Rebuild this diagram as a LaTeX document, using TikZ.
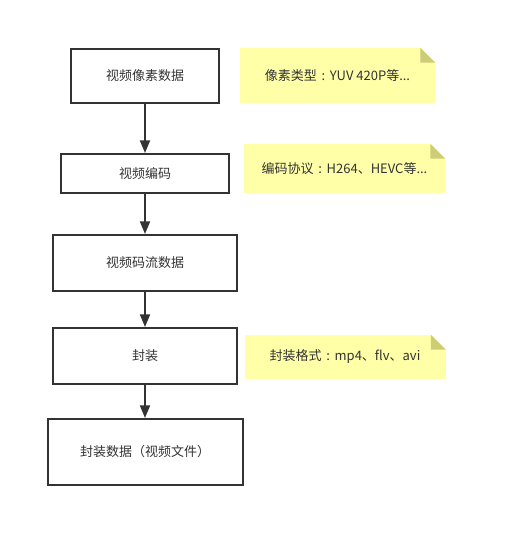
\documentclass[tikz,border=0pt]{standalone}
\usepackage{fontspec}
\setmainfont{Noto Sans CJK SC}
\usetikzlibrary{arrows.meta}
\definecolor{notefill}{HTML}{FFFFA8}
\definecolor{notefold}{HTML}{CDCD78}
\definecolor{ink}{HTML}{333333}
\newcommand{\etcdots}{...}
\newcommand{\midcolon}{\makebox[1em]{:}}

\begin{document}
\begin{tikzpicture}[x=0.75pt,y=-0.75pt,font=\fontsize{9.75}{12}\selectfont,
  stepbox/.style={draw=ink,line width=1.5pt,fill=white,inner sep=0pt,text=ink},
  note/.style={fill=notefill,inner sep=0pt,text=ink},
  flow/.style={draw=ink,line width=1.5pt,-{Triangle[length=9.5pt,width=7.5pt]}},
  fold dist/.initial=11.25pt]
\useasboundingbox (0,0) rectangle (508,547);
% steps
\foreach \X/\Y/\W/\H [count=\i] in
{视频像素数据/76/111/40.5, 视频编码/173.5/126/29.25, 视频码流数据/263/138/42,
 封装/356/138/42, 封装数据（视频文件）/452/146.25/49.5}
  {\node[stepbox,minimum width=\W pt,minimum height=\H pt] (S-\i) at (145,\Y) {\X};}
\foreach \i [count=\j from 2] in {1,2,3,4}
  {\draw[flow] (S-\i) -- (S-\j);}
% notes
\foreach \X/\x/\y/\W/\H [count=\i] in
{像素类型\midcolon YUV 420P等\etcdots/337.5/75.5/146.25/41.25,
 编码协议\midcolon H264、HEVC等\etcdots/344.5/168.5/150.75/36.75,
 封装格式\midcolon mp4、flv、avi/345/357/150.75/33}
  {\node[note,minimum width=\W pt,minimum height=\H pt] (N-\i) at (\x,\y) {\X};
  \fill[white] ([xshift=-\pgfkeysvalueof{/tikz/fold dist}]N-\i.north east)
    -- (N-\i.north east) -- ([yshift=-\pgfkeysvalueof{/tikz/fold dist}]N-\i.north east) -- cycle;
  \fill[notefold] ([xshift=-\pgfkeysvalueof{/tikz/fold dist}]N-\i.north east)
    -- ([yshift=-\pgfkeysvalueof{/tikz/fold dist}]N-\i.north east)
    -- ([xshift=-\pgfkeysvalueof{/tikz/fold dist},yshift=-\pgfkeysvalueof{/tikz/fold dist}]N-\i.north east) -- cycle;}
\end{tikzpicture}
\end{document}
